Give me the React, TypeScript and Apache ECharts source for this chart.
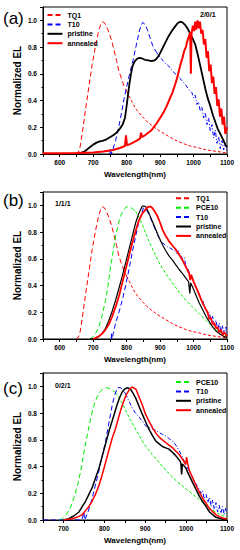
import React, { useEffect, useRef } from "react";
import * as echarts from "echarts";

type P = [number, number];

// ---- Panel (a): 2/0/1 ----
const tq1Rise: P[] = [[648,0],[655,0.01],[660,0.04],[667,0.15],[677,0.33],[687,0.5],[697,0.67],[707,0.81],[717,0.93],[724,0.98],[730,0.99],[738,0.965],[747,0.91],[755,0.85],[762,0.78],[770,0.7],[777,0.62],[785,0.56],[792,0.51],[800,0.47]];
const tq1Tail: P[] = [[800,0.47],[810,0.42],[820,0.37],[830,0.33],[847,0.28],[860,0.245],[877,0.21],[900,0.17],[917,0.145],[940,0.11],[967,0.08],[990,0.06],[1017,0.045],[1040,0.03],[1067,0.02],[1100,0.008]];

const t10RiseA: P[] = [[750,0],[752,0.04],[754,0],[757,0.02],[767,0.1],[777,0.21],[785,0.31],[792,0.41],[800,0.5],[810,0.61],[820,0.71],[830,0.83],[838,0.92],[843,0.96],[848,0.985],[855,0.97],[862,0.93],[870,0.87],[878,0.81],[887,0.77]];
const t10TailA: P[] = [[887,0.77],[895,0.74],[905,0.71],[915,0.68],[925,0.66],[937,0.62],[950,0.59],[962,0.56],[975,0.52],[987,0.48],[995,0.46],[1000,0.42],[1005,0.44],[1010,0.37],[1015,0.39],[1020,0.32],[1025,0.35],[1030,0.27],[1035,0.31],[1040,0.22],[1045,0.27],[1050,0.17],[1055,0.22],[1060,0.12],[1065,0.18],[1070,0.08],[1075,0.13],[1080,0.04],[1085,0.1],[1090,0.03],[1095,0.08],[1100,0.02]];

const pristineA: P[] = [[550,0],[640,0],[660,0.005],[675,0.02],[690,0.05],[700,0.07],[710,0.085],[720,0.095],[730,0.1],[740,0.11],[750,0.125],[760,0.14],[770,0.16],[780,0.19],[788,0.22],[795,0.27],[800,0.36],[804,0.44],[808,0.52],[813,0.6],[818,0.66],[823,0.69],[830,0.71],[838,0.72],[846,0.715],[855,0.705],[865,0.7],[875,0.695],[883,0.7],[890,0.715],[897,0.74],[905,0.78],[915,0.83],[925,0.88],[935,0.92],[945,0.955],[953,0.98],[960,0.99],[967,0.985],[975,0.965],[982,0.94],[990,0.9],[998,0.86],[1005,0.82],[1012,0.75],[1020,0.66],[1028,0.57],[1035,0.49],[1042,0.42],[1050,0.36],[1058,0.29],[1065,0.24],[1072,0.19],[1080,0.15],[1088,0.11],[1095,0.07],[1100,0.05]];

const annealedA: P[] = [[550,0.005],[600,0.006],[650,0.008],[700,0.012],[730,0.018],[760,0.03],[780,0.045],[795,0.06],[798,0.14],[801,0.065],[815,0.08],[830,0.1],[840,0.115],[843,0.16],[846,0.125],[860,0.15],[875,0.18],[890,0.23],[900,0.27],[910,0.31],[920,0.36],[930,0.42],[937,0.46],[945,0.52],[952,0.58],[957,0.63],[962,0.68],[967,0.72],[972,0.77],[977,0.8],[982,0.85],[986,0.88],[990,0.91],[992,0.6],[994,0.9],[998,0.96],[1002,0.92],[1005,0.99],[1008,0.93],[1012,1.0],[1016,0.94],[1019,0.99],[1023,0.9],[1027,0.93],[1031,0.82],[1035,0.86],[1039,0.72],[1043,0.77],[1047,0.62],[1051,0.67],[1055,0.53],[1059,0.58],[1063,0.45],[1067,0.5],[1071,0.36],[1075,0.41],[1079,0.28],[1083,0.34],[1087,0.22],[1091,0.28],[1095,0.15],[1100,0.2]];

// ---- Panel (b): 1/1/1 ----
const pce10Rise: P[] = [[690,0],[697,0.01],[707,0.04],[717,0.09],[727,0.18],[737,0.29],[745,0.41],[752,0.54],[760,0.66],[767,0.77],[775,0.86],[782,0.92],[790,0.96],[797,0.985],[803,0.99],[812,0.985],[820,0.97],[827,0.955]];
const pce10Tail: P[] = [[827,0.955],[837,0.91],[847,0.855],[857,0.79],[867,0.73],[882,0.65],[897,0.57],[917,0.49],[937,0.42],[957,0.35],[977,0.29],[997,0.24],[1017,0.19],[1037,0.14],[1057,0.09],[1077,0.05],[1100,0.02]];

const t10RiseB: P[] = [[754,0],[755,0.05],[756,0],[760,0.04],[767,0.12],[777,0.2],[787,0.29],[797,0.4],[807,0.52],[817,0.65],[827,0.77],[835,0.86],[842,0.92],[850,0.98],[856,0.975],[862,0.955],[872,0.9],[882,0.84]];
const t10TailB: P[] = [[882,0.84],[892,0.78],[902,0.73],[912,0.71],[922,0.69],[930,0.68],[937,0.67],[945,0.66],[950,0.64],[955,0.66],[962,0.62],[967,0.6],[972,0.61],[977,0.55],[982,0.53],[987,0.5],[992,0.46],[997,0.45],[1002,0.41],[1007,0.39],[1012,0.36],[1017,0.34],[1022,0.3],[1027,0.29],[1032,0.25],[1037,0.23],[1042,0.19],[1047,0.2],[1052,0.14],[1057,0.17],[1062,0.1],[1067,0.14],[1072,0.07],[1077,0.12],[1082,0.05],[1087,0.1],[1092,0.04],[1097,0.09],[1100,0.03]];

const pristineB: P[] = [[690,0],[707,0.005],[717,0.02],[727,0.04],[737,0.08],[747,0.14],[757,0.21],[767,0.29],[777,0.38],[787,0.47],[797,0.57],[807,0.67],[817,0.77],[827,0.87],[835,0.93],[842,0.97],[847,0.995],[852,0.995],[857,0.99],[862,0.965],[867,0.94],[877,0.88],[887,0.82],[897,0.76],[907,0.705],[917,0.66],[927,0.62],[937,0.59],[947,0.555],[957,0.52],[967,0.49],[977,0.455],[985,0.43],[989,0.34],[991,0.42],[997,0.39],[1007,0.33],[1017,0.27],[1027,0.22],[1037,0.17],[1047,0.13],[1057,0.09],[1067,0.06],[1077,0.04],[1090,0.02],[1100,0.012]];

const annealedB: P[] = [[700,0],[717,0.02],[727,0.04],[737,0.07],[747,0.11],[757,0.17],[767,0.24],[777,0.32],[787,0.42],[797,0.52],[807,0.62],[817,0.72],[827,0.81],[837,0.89],[847,0.94],[857,0.97],[862,0.985],[867,0.99],[872,0.99],[877,0.98],[885,0.95],[892,0.92],[900,0.87],[907,0.82],[917,0.77],[927,0.73],[937,0.7],[947,0.67],[957,0.63],[967,0.59],[977,0.54],[987,0.49],[990,0.44],[993,0.48],[1000,0.43],[1007,0.39],[1017,0.33],[1027,0.27],[1037,0.22],[1042,0.2],[1047,0.15],[1052,0.16],[1057,0.11],[1062,0.12],[1067,0.08],[1072,0.09],[1077,0.05],[1082,0.07],[1087,0.03],[1092,0.05],[1100,0.02]];

// ---- Panel (c): 0/2/1 ----
const t10RiseC: P[] = [[650,0],[745,0],[750,0.06],[752,0],[760,0.06],[770,0.16],[778,0.26],[787,0.37],[795,0.48],[803,0.59],[809,0.69],[815,0.79],[820,0.87],[826,0.94],[832,0.99],[840,0.99],[846,0.97],[852,0.945]];
const t10TailC: P[] = [[852,0.945],[860,0.89],[868,0.84],[876,0.8],[885,0.77],[893,0.74],[901,0.705],[910,0.69],[918,0.68],[926,0.67],[934,0.655],[942,0.64],[950,0.63],[958,0.61],[967,0.59],[975,0.56],[983,0.52],[991,0.47],[999,0.415],[1007,0.37],[1016,0.315],[1024,0.27],[1032,0.23],[1036,0.2],[1040,0.22],[1044,0.16],[1049,0.19],[1053,0.13],[1057,0.17],[1061,0.1],[1065,0.15],[1069,0.08],[1073,0.13],[1077,0.06],[1081,0.11],[1085,0.05],[1089,0.1],[1093,0.04],[1097,0.09],[1100,0.05]];

const pristineC: P[] = [[700,0],[713,0.01],[725,0.03],[738,0.06],[746,0.1],[754,0.14],[762,0.19],[770,0.24],[778,0.31],[787,0.39],[795,0.48],[803,0.57],[811,0.66],[819,0.74],[826,0.81],[832,0.87],[838,0.92],[844,0.96],[850,0.98],[856,0.99],[864,0.98],[870,0.95],[877,0.91],[885,0.85],[893,0.79],[901,0.735],[909,0.68],[918,0.63],[926,0.59],[934,0.57],[942,0.55],[950,0.54],[958,0.53],[967,0.505],[975,0.48],[983,0.45],[987,0.43],[989,0.34],[991,0.42],[999,0.39],[1008,0.33],[1016,0.28],[1024,0.23],[1032,0.18],[1040,0.14],[1049,0.1],[1057,0.06],[1065,0.04],[1073,0.02],[1081,0.013],[1100,0]];

const annealedC: P[] = [[700,0],[721,0.01],[733,0.02],[746,0.04],[754,0.07],[762,0.1],[770,0.14],[778,0.19],[787,0.26],[795,0.34],[803,0.43],[811,0.52],[819,0.61],[828,0.69],[836,0.78],[844,0.86],[850,0.91],[856,0.95],[862,0.98],[868,0.995],[877,0.98],[885,0.92],[893,0.86],[901,0.79],[909,0.74],[918,0.69],[926,0.65],[934,0.62],[942,0.6],[950,0.58],[958,0.56],[967,0.54],[975,0.515],[983,0.49],[991,0.455],[999,0.415],[1001,0.47],[1004,0.42],[1008,0.37],[1016,0.315],[1024,0.26],[1032,0.21],[1040,0.165],[1049,0.125],[1057,0.085],[1065,0.063],[1073,0.04],[1081,0.025],[1090,0.015],[1100,0.008]];

const panelLetters = ["(a)", "(b)", "(c)"];
const ratios = ["2/0/1", "1/1/1", "0/2/1"];
const xMins = [550, 550, 650];
const legendA = ["TQ1", "T10", "pristine", "annealed"];
const legendB = ["TQ1", "PCE10", "T10", "pristine", "annealed"];
const legendC = ["PCE10", "T10", "pristine", "annealed"];

const FONT = "Liberation Sans";
const RED = "#ff0000";
const BLUE = "#0000ff";
const GREEN = "#00ee00";
const BLACK = "#000000";
const DASH = [5, 3];
const DOT = [3, 2];
const DASHDOT = [4, 2, 1, 2];

function line(name: string, data: P[], color: string, type: any, width: number, gi: number, z = 2) {
  return {
    type: "line",
    name,
    data,
    xAxisIndex: gi,
    yAxisIndex: gi,
    symbol: "none",
    showSymbol: false,
    silent: true,
    z,
    lineStyle: { color, width, type },
    itemStyle: { color },
  };
}

export default function App() {
  const ref = useRef<HTMLDivElement>(null);
  useEffect(() => {
    document.body.style.margin = "0";
    if (!ref.current) return;
    const chart = echarts.init(ref.current, null, { renderer: "svg" });
    const tops = [7, 192, 373];
    const grids = tops.map((t) => ({
      left: 43,
      top: t,
      width: 184,
      height: 147,
      show: true,
      borderColor: "#000",
      borderWidth: 1,
      backgroundColor: "transparent",
    }));
    const xAxes = xMins.map((mn, i) => ({
      type: "value",
      gridIndex: i,
      min: mn,
      max: 1100,
      interval: 50,
      axisLine: { show: true, onZero: false, lineStyle: { color: "#000", width: 1 } },
      axisTick: { show: true, inside: false, length: 3, lineStyle: { color: "#000" } },
      splitLine: { show: false },
      axisLabel: {
        formatter: (v: number) => (v % 100 === 0 ? String(v) : ""),
        fontSize: 6.5,
        fontWeight: "bold",
        fontFamily: FONT,
        color: "#000",
        margin: 5,
      },
      name: "Wavelength(nm)",
      nameLocation: "middle",
      nameGap: 16,
      nameMoveOverlap: false,
      nameTextStyle: { fontSize: 8, fontWeight: "bold", fontFamily: FONT, color: "#000" },
    }));
    const yAxes = [0, 1, 2].map((i) => ({
      type: "value",
      gridIndex: i,
      min: 0,
      max: 1.1,
      interval: 0.2,
      axisLine: { show: true, onZero: false, lineStyle: { color: "#000", width: 1 } },
      axisTick: { show: true, inside: false, length: 3, lineStyle: { color: "#000" } },
      minorTick: { show: true, splitNumber: 2, length: 1.5, lineStyle: { color: "#000" } },
      splitLine: { show: false },
      axisLabel: {
        formatter: (v: number) => (Math.abs(v - 1.1) < 1e-6 ? "" : v.toFixed(1)),
        fontSize: 6.5,
        fontWeight: "bold",
        fontFamily: FONT,
        color: "#000",
        margin: 6,
      },
      name: "Normalized EL",
      nameLocation: "middle",
      nameRotate: 90,
      nameGap: 21,
      nameMoveOverlap: false,
      nameTextStyle: { fontSize: 10, fontWeight: "bold", fontFamily: FONT, color: "#000" },
    }));
    const legendBase = {
      orient: "vertical",
      itemWidth: 15,
      itemHeight: 8,
      itemGap: 1.4,
      padding: 0,
      selectedMode: false,
      itemStyle: { opacity: 0 },
      textStyle: { fontSize: 7, fontWeight: "bold", fontFamily: FONT, color: "#000", lineHeight: 8 },
    };
    const legends = [
      { ...legendBase, left: 46.5, top: 11, data: legendA },
      { ...legendBase, left: 175, top: 194.3, data: legendB },
      { ...legendBase, left: 175, top: 378, data: legendC },
    ];
    const series = [
      // (a)
      line("TQ1", tq1Rise, RED, DASH, 1, 0),
      line("TQ1 tail a", tq1Tail, RED, DOT, 1, 0),
      line("T10", t10RiseA, BLUE, DASH, 1, 0),
      line("T10 tail a", t10TailA, BLUE, DASHDOT, 1, 0),
      line("pristine", pristineA, BLACK, "solid", 1.8, 0, 3),
      line("annealed", annealedA, RED, "solid", 2, 0, 4),
      // (b)
      line("TQ1", tq1Rise, RED, DASH, 1, 1),
      line("TQ1 tail b", tq1Tail, RED, DOT, 1, 1),
      line("PCE10", pce10Rise, GREEN, DASH, 1, 1),
      line("PCE10 tail b", pce10Tail, GREEN, DOT, 1, 1),
      line("T10", t10RiseB, BLUE, DASH, 1, 1),
      line("T10 tail b", t10TailB, BLUE, DASHDOT, 1, 1),
      line("pristine", pristineB, BLACK, "solid", 1.2, 1, 3),
      line("annealed", annealedB, RED, "solid", 1.8, 1, 4),
      // (c)
      line("PCE10", pce10Rise, GREEN, DASH, 1, 2),
      line("PCE10 tail c", pce10Tail, GREEN, DOT, 1, 2),
      line("T10", t10RiseC, BLUE, DASH, 1, 2),
      line("T10 tail c", t10TailC, BLUE, DASHDOT, 1, 2),
      line("pristine", pristineC, BLACK, "solid", 1.5, 2, 3),
      line("annealed", annealedC, RED, "solid", 1.5, 2, 4),
    ];
    const letterY = [18.5, 200, 388];
    const ratioPos = [[200, 14.7], [55, 203.3], [55, 385]];
    const graphic: any[] = [];
    panelLetters.forEach((t, i) => {
      graphic.push({
        type: "text",
        x: 3,
        y: letterY[i],
        style: { text: t, fontSize: 17, fontFamily: FONT, fill: "#000", verticalAlign: "middle" },
      });
      graphic.push({
        type: "text",
        x: ratioPos[i][0],
        y: ratioPos[i][1],
        style: { text: ratios[i], fontSize: 7, fontWeight: "bold", fontFamily: FONT, fill: "#000", verticalAlign: "middle" },
      });
    });
    chart.setOption({
      animation: false,
      backgroundColor: "#fff",
      grid: grids,
      xAxis: xAxes,
      yAxis: yAxes,
      legend: legends,
      series,
      graphic,
    });
    return () => chart.dispose();
  }, []);
  return <div ref={ref} style={{ width: 240, height: 550 }} />;
}
